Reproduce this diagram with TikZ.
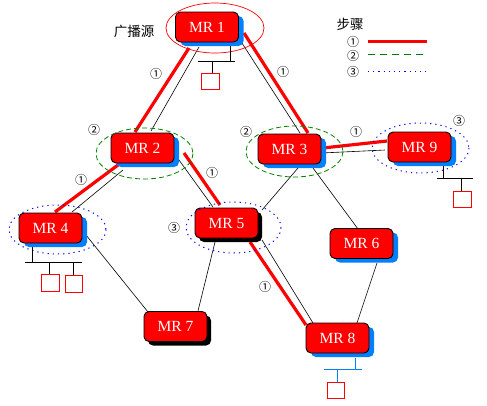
\documentclass[tikz,border=0pt]{standalone}
\usepackage{fontspec}
\setmainfont{Liberation Serif}
\newfontfamily\cjk{Noto Sans CJK SC}
\usetikzlibrary{shadows,backgrounds}
\definecolor{sblue}{RGB}{0,128,255}
\definecolor{dgreen}{RGB}{0,128,0}
\begin{document}
\begin{tikzpicture}[x=1pt,y=-1pt,
 mr/.style={draw=black,line width=0.9pt,fill=red,rounded corners=5pt,minimum width=63pt,minimum height=30pt,inner sep=0pt,text=white,font=\fontsize{15.5}{15.5}\selectfont},
 bshadow/.style={drop shadow={shadow xshift=5pt,shadow yshift=-4pt,fill=sblue,opacity=1}},
 kshadow/.style={drop shadow={shadow xshift=4pt,shadow yshift=-4pt,fill=black,opacity=1}},
 link/.style={draw=black,line width=0.6pt},
 hot/.style={draw=red,line width=3.2pt},
 num/.style={font=\cjk\fontsize{12}{12}\selectfont,inner sep=0pt},
 grp1/.style={draw=red,line width=0.7pt},
 grp2/.style={draw=dgreen,line width=0.8pt,dash pattern=on 5pt off 3pt},
 grp3/.style={draw=blue,line width=1pt,dash pattern=on 1.2pt off 4pt},
 bus/.style={draw=black,line width=0.8pt},
 bbus/.style={draw=sblue,line width=0.8pt},
 host/.style={draw=red,line width=0.8pt,fill=white}]
\useasboundingbox (0,0) rectangle (487,405);

% routers
\node[mr,bshadow] (mr1) at (207,27) {MR 1};
\node[mr,bshadow] (mr2) at (142.5,148) {MR 2};
\node[mr,bshadow] (mr3) at (289.5,149) {MR 3};
\node[mr,bshadow] (mr9) at (419.5,147) {MR 9};
\node[mr,bshadow] (mr4) at (50.5,228) {MR 4};
\node[mr,kshadow] (mr5) at (226.5,223) {MR 5};
\node[mr,bshadow] (mr6) at (361.5,243.5) {MR 6};
\node[mr,kshadow] (mr7) at (175.5,326.5) {MR 7};
\node[mr,bshadow] (mr8) at (337.5,338) {MR 8};

\begin{scope}[on background layer]
% thin links
\draw[link] ([shift={(-8,20)}]mr1.center) -- ([shift={(8.5,-17)}]mr2.center);
\draw[link] ([shift={(33,13)}]mr1.center) -- ([shift={(10.5,-16)}]mr3.center);
\draw[link] ([shift={(32,4)}]mr3.center) -- ([shift={(-34.5,3)}]mr9.center);
\draw[link] ([shift={(-19.5,22)}]mr2.center) -- ([shift={(21.5,-16)}]mr4.center);
\draw[link] ([shift={(36.5,12)}]mr2.center) -- ([shift={(-13.5,-16)}]mr5.center);
\draw[link] ([shift={(8.5,19)}]mr3.center) -- ([shift={(35.5,-13)}]mr5.center);
\draw[link] ([shift={(23.5,19)}]mr3.center) -- ([shift={(-3.5,-14.5)}]mr6.center);
\draw[link] ([shift={(-11.5,19)}]mr5.center) -- ([shift={(22.5,-15.5)}]mr7.center);
\draw[link] ([shift={(35.5,7)}]mr4.center) -- ([shift={(-27.5,-14.5)}]mr7.center);
\draw[link] ([shift={(35.5,17)}]mr5.center) -- ([shift={(-24.5,-15)}]mr8.center);
\draw[link] ([shift={(15.5,19.5)}]mr6.center) -- ([shift={(19.5,-15)}]mr8.center);
% step 1 (red)
\draw[hot] ([shift={(-18,21)}]mr1.center) -- ([shift={(-7.5,-16)}]mr2.center);
\draw[hot] ([shift={(37,6)}]mr1.center) -- ([shift={(18.5,-16)}]mr3.center);
\draw[hot] ([shift={(33.5,-1)}]mr3.center) -- ([shift={(-32.5,-6)}]mr9.center);
\draw[hot] ([shift={(-24.5,17)}]mr2.center) -- ([shift={(4.5,-16)}]mr4.center);
\draw[hot] ([shift={(41.5,5)}]mr2.center) -- ([shift={(-6.5,-18)}]mr5.center);
\draw[hot] ([shift={(23.5,19)}]mr5.center) -- ([shift={(-31.5,-13)}]mr8.center);
\end{scope}

% group ellipses
\draw[grp1] (215,28) ellipse [x radius=49, y radius=25];
\draw[grp2] (144.5,153.5) ellipse [x radius=48.5, y radius=25.5];
\draw[grp2] (294.5,151.5) ellipse [x radius=48.5, y radius=25.5];
\draw[grp3] (420.5,148) ellipse [x radius=48.5, y radius=25];
\draw[grp3] (57.5,229.5) ellipse [x radius=48.5, y radius=24.5];
\draw[grp3] (233.5,227.5) ellipse [x radius=47.5, y radius=25.5];

% hosts
\draw[bus] (230,46) -- (230,61) (198,61) -- (235,61) (212,61) -- (212,73);
\draw[host] (201,73) rectangle (219,89);
\draw[bus] (443,166) -- (443,178) (437,178) -- (473,178) (461,178) -- (461,191);
\draw[host] (453,191) rectangle (471,207);
\draw[bus] (32,247) -- (32,262) (25,262) -- (82,262) (49,262) -- (49,274) (73,262) -- (73,275);
\draw[host] (41,274) rectangle (59,291);
\draw[host] (65,275) rectangle (82,292);
\draw[bbus] (355,358) -- (355,369) (324,369) -- (362,369) (337,369) -- (337,382);
\draw[host] (327,382) rectangle (344,398);

% labels
\node[font=\cjk\fontsize{13.5}{13.5}\selectfont] (src) at (134,31) {广播源};
\node[num] (n1) at (156,74) {①};
\node[num] (n2) at (283,72) {①};
\node[num] (n3) at (94,130) {②};
\node[num] (n4) at (246,132) {②};
\node[num] (n5) at (356,132) {①};
\node[num] (n6) at (459,121) {③};
\node[num] (n7) at (81,180) {①};
\node[num] (n8) at (212,173) {①};
\node[num] (n9) at (174,228) {③};
\node[num] (n10) at (265,287) {①};

% legend
\node[font=\cjk\fontsize{13.5}{13.5}\selectfont] (lt) at (350,24) {步骤};
\node[num] (l1) at (353,42) {①};
\node[num] (l2) at (353,56) {②};
\node[num] (l3) at (353,72) {③};
\coordinate (l1a) at (368,41); \coordinate (l1b) at (427,41);
\coordinate (l2a) at (368,54); \coordinate (l2b) at (427,54);
\coordinate (l3a) at (368,71); \coordinate (l3b) at (427,71);
\draw[draw=red,line width=3pt] (l1a) -- (l1b);
\draw[draw=dgreen,line width=0.9pt,dash pattern=on 7pt off 5pt] (l2a) -- (l2b);
\draw[draw=blue,line width=1pt,dash pattern=on 1.2pt off 4pt] (l3a) -- (l3b);
\end{tikzpicture}
\end{document}
